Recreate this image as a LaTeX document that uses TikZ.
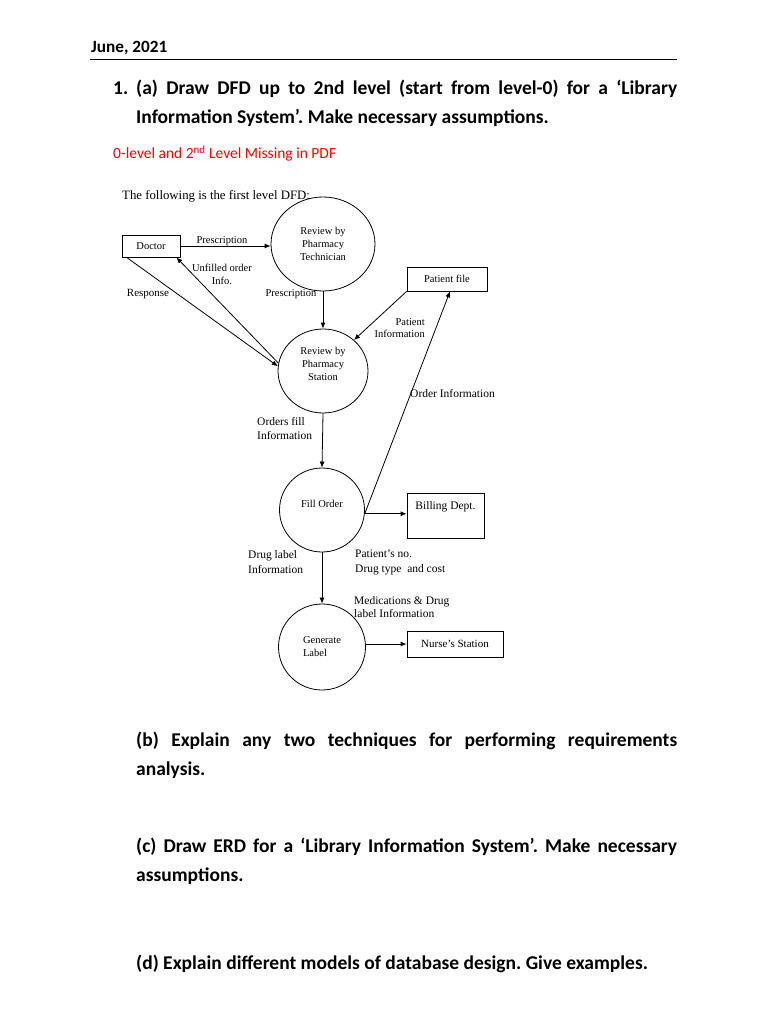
\documentclass[tikz,border=0pt]{standalone}
\usepackage{fontspec}
\setmainfont{Liberation Serif}
\newfontfamily\calfont{Carlito}
\usetikzlibrary{arrows.meta,shapes.geometric,calc}
\begin{document}
\frenchspacing
\begin{tikzpicture}[x=1pt,y=-1pt,
  qtext/.style={anchor=base west,inner sep=0,font=\calfont\bfseries\fontsize{19.5}{23}\selectfont},
  proc/.style={draw,ellipse,line width=0.8pt,inner sep=0,align=center,font=\fontsize{10.5}{13}\selectfont},
  ent/.style={draw,rectangle,line width=0.8pt,inner sep=0,font=\fontsize{10.5}{12}\selectfont},
  flow/.style={-{Latex[length=6pt,width=5pt]},line width=0.8pt},
  sml/.style={inner sep=0,align=center,font=\fontsize{10.5}{13}\selectfont},
  big/.style={inner sep=0,align=left,font=\fontsize{11.5}{15}\selectfont},
]
\fill[white] (0,0) rectangle (768,1024);
\useasboundingbox (0,0) rectangle (768,1024);

% header
\node[anchor=base west,inner sep=0,font=\calfont\bfseries\fontsize{17.2}{20}\selectfont] (date) at (91,53) {June, 2021};
\draw[line width=1pt] (90,60) coordinate (r1) -- (677,60) coordinate (r2);
\node[qtext] (num) at (113,95) {1.};
\node[qtext] (qa1) at (136,95) {\makebox[541pt][s]{(a) Draw DFD up to 2nd level (start from level-0) for a ‘Library}};
\node[qtext] (qa2) at (136,124) {Information System’. Make necessary assumptions.};
\node[anchor=base west,inner sep=0,text=red,font=\calfont\fontsize{15.5}{18}\selectfont] (miss) at (113,159) {0-level and 2\textsuperscript{nd} Level Missing in PDF};

\node[anchor=base west,inner sep=0,font=\fontsize{12.8}{15}\selectfont] (intro) at (122,200) {The following is the first level DFD:};

% diagram nodes
\node[ent,minimum width=58,minimum height=22] (doc) at (151,246) {Doctor};
\node[proc,minimum width=104,minimum height=94] (tech) at (323,244) {Review by\\Pharmacy\\Technician};
\node[ent,minimum width=80,minimum height=24] (pf) at (447,279) {Patient file};
\node[proc,minimum width=90,minimum height=84,text depth=14pt] (sta) at (323,371) {Review by\\Pharmacy\\Station};
\node[proc,minimum width=85,minimum height=84,text depth=12pt] (fo) at (322,510) {Fill Order};
\node[ent,minimum width=77,minimum height=45,text depth=19pt,font=\fontsize{11.5}{13}\selectfont] (bd) at (445.5,515.5) {Billing Dept.};
\node[proc,minimum width=87,minimum height=86,align=left] (gl) at (322,647) {Generate\\Label};
\node[ent,minimum width=96,minimum height=26,font=\fontsize{11}{13}\selectfont] (ns) at (455,644) {Nurse’s Station};

% connectors
\draw[flow] (doc.east) -- (doc.east -| tech.west);
\draw[flow] ($(doc.south west)+(5,0)$) -- (sta.174);
\draw[flow] (sta.170) -- ($(doc.south east)+(-4,0)$);
\draw[flow] (tech.south) -- (sta.north);
\draw[flow] (pf.south west) -- (sta.45);
\draw[flow] (fo.-5) -- ($(pf.south)+(3,0)$);
\draw[flow] (sta.south) -- (fo.north);
\draw[flow] (fo.-5) -- (fo.-5 -| bd.west);
\draw[flow] (fo.south) -- (gl.north);
\draw[flow] (ns.west -| gl.east) -- (ns.west);

% labels
\node[sml] (l1) at (222,241) {Prescription};
\node[sml] (l2) at (222,274.5) {Unfilled order\\Info.};
\node[sml,font=\fontsize{11}{13}\selectfont] (l3) at (148,294) {Response};
\node[sml] (l4) at (291,294) {Prescription};
\node[sml,anchor=east,align=right,font=\fontsize{10.5}{11.5}\selectfont] (l5) at (425,328) {Patient\\Information};
\node[big,anchor=west] (l6) at (410,394) {Order Information};
\node[big,anchor=west,font=\fontsize{11.5}{14}\selectfont] (l7) at (257,429) {Orders fill\\Information};
\node[big,anchor=west] (l8) at (248,562) {Drug label\\Information};
\node[big,anchor=west] (l9) at (355,562) {Patient’s no.\\Drug type \ and cost};
\node[big,anchor=west,font=\fontsize{11.5}{12.5}\selectfont] (l10) at (354,607) {Medications \& Drug\\label Information};

% remaining questions
\node[qtext] (qb1) at (136,746) {\makebox[541pt][s]{(b) Explain any two techniques for performing requirements}};
\node[qtext] (qb2) at (136,775) {analysis.};
\node[qtext] (qc1) at (136,852) {\makebox[541pt][s]{(c) Draw ERD for a ‘Library Information System’. Make necessary}};
\node[qtext] (qc2) at (136,881) {assumptions.};
\node[qtext] (qd) at (136,969) {(d) Explain different models of database design. Give examples.};
\end{tikzpicture}
\end{document}
